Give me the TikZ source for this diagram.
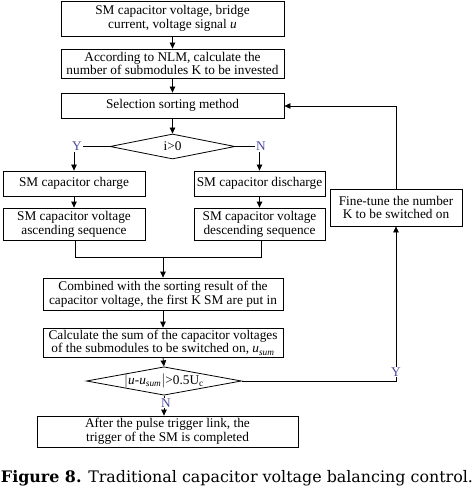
\documentclass[tikz,border=0pt]{standalone}
\usepackage{fontspec}
\setmainfont{Liberation Serif}
\newfontfamily\capfont{DejaVu Serif}
\usetikzlibrary{shapes.geometric,arrows.meta}
\begin{document}
\begin{tikzpicture}[x=1pt,y=-1pt,
  box/.style={draw,line width=0.8pt,inner sep=0pt,align=center,font=\fontsize{13.3}{13.8}\selectfont},
  dia/.style={draw,line width=0.8pt,diamond,aspect=5,inner sep=0pt,font=\fontsize{13.3}{13.8}\selectfont},
  lab/.style={text=blue!45!black!70!white,font=\fontsize{13.3}{13.8}\selectfont,inner sep=1pt},
  arr/.style={line width=0.8pt,-{Triangle[length=6pt,width=5.5pt]}},
  ln/.style={line width=0.8pt}]
\useasboundingbox (0,0) rectangle (474,486);
\node[box,minimum width=223,minimum height=35] (b1) at (172.5,18.5) {SM capacitor voltage, bridge\\current, voltage signal \textit{u}};
\node[box,minimum width=223,minimum height=29] (b2) at (172.5,63.5) {According to NLM, calculate the\\number of submodules K to be invested};
\node[box,minimum width=223,minimum height=25] (b3) at (172.5,105.5) {Selection sorting method};
\node[dia,minimum width=125,minimum height=25] (d1) at (172.5,146.5) {\makebox[40pt]{i>0}};
\node[lab] (y1) at (77,146.5) {Y};
\node[lab] (n1) at (261,146.5) {N};
\node[box,minimum width=142,minimum height=25] (c1) at (74,183.5) {SM capacitor charge};
\node[box,minimum width=131,minimum height=25] (c2) at (259.5,183.5) {SM capacitor discharge};
\node[box,minimum width=142,minimum height=32] (s1) at (74,224) {SM capacitor voltage\\ascending sequence};
\node[box,minimum width=131,minimum height=32] (s2) at (259.5,224) {SM capacitor voltage\\descending sequence};
\coordinate (m1) at (75,257);
\coordinate (m2) at (261,257);
\coordinate (mc) at (163,257);
\node[box,minimum width=240,minimum height=32] (b4) at (163,294) {Combined with the sorting result of the\\capacitor voltage, the first K SM are put in};
\node[box,minimum width=240,minimum height=29] (b5) at (163,342.5) {Calculate the sum of the capacitor voltages\\of the submodules to be switched on, \textit{u}\textsubscript{\textit{sum}}};
\node[dia,minimum width=155,minimum height=28] (d2) at (164,381) {\makebox[70pt]{$|$\textit{u}-\textit{u}\textsubscript{\textit{sum}}$|$>0.5U\textsubscript{c}}};
\node[box,minimum width=261,minimum height=31] (b6) at (167.5,431.5) {After the pulse trigger link, the\\trigger of the SM is completed};
\node[box,minimum width=132,minimum height=37] (f) at (396,207.5) {Fine-tune the number\\K to be switched on};
\coordinate (r1) at (396,381);
\coordinate (r2) at (396,106);
% connectors
\draw[arr] (b1) -- (b2);
\draw[arr] (b2) -- (b3);
\draw[arr] (b3) -- (d1);
\draw[ln] (d1.west) -- (y1.east);
\draw[ln] (d1.east) -- (n1.west);
\draw[arr] (y1.south -| c1.north) -- (c1.north);
\draw[arr] (n1.south -| c2.north) -- (c2.north);
\draw[arr] (c1) -- (s1);
\draw[arr] (c2) -- (s2);
\draw[ln] (s1.south -| m1) -- (m1) -- (m2) -- (s2.south -| m2);
\draw[arr] (mc) -- (b4.north);
\draw[arr] (b4) -- (b5);
\draw[arr] (b5.south) -- (d2.north);
\draw[arr] (d2.south) -- (b6.north -| d2.south);
\node[lab,fill=white] (n2) at (166,403) {N};
\draw[arr] (d2.east) -- (r1) -- (f.south);
\node[lab,fill=white] (y2) at (396,372) {Y};
\draw[arr] (f.north) -- (r2) -- (b3.east |- r2);
\node[anchor=base,inner sep=0pt] (cap) at (237,482) {\resizebox{472pt}{!}{\capfont\textbf{Figure 8.} Traditional capacitor voltage balancing control.}};
\end{tikzpicture}
\end{document}
